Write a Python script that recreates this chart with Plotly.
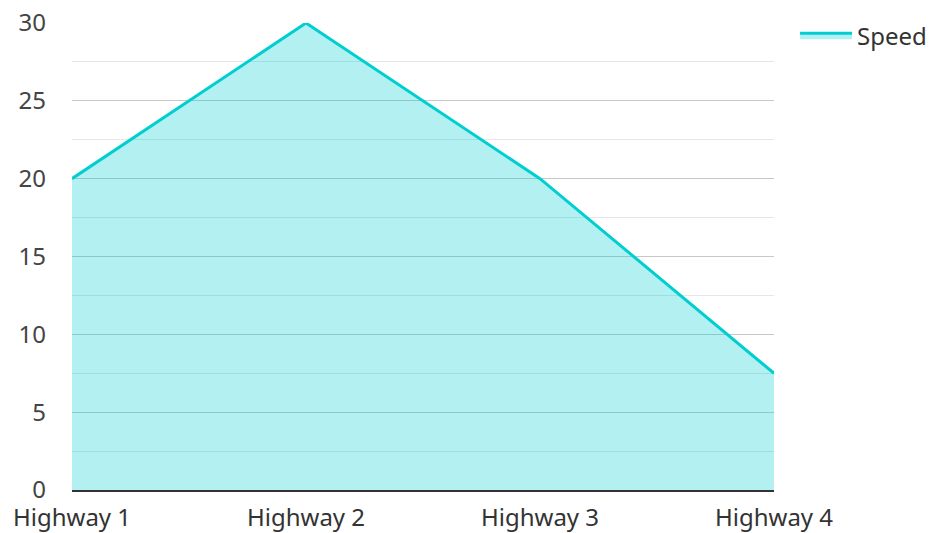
import plotly.graph_objects as go

categories = ["Highway 1", "Highway 2", "Highway 3", "Highway 4"]
speed = [20, 30, 20, 7.5]
y_ticks = [0, 5, 10, 15, 20, 25, 30]

fig = go.Figure()
fig.add_trace(go.Scatter(
    x=categories, y=speed, name="Speed", mode="lines",
    line=dict(color="#00CED1", width=3),
    fill="tozeroy", fillcolor="rgba(0,206,209,0.3)",
))

font_family = "Noto Sans"
fig.update_layout(
    width=932, height=533,
    margin=dict(l=72, r=158, t=23, b=43, autoexpand=False),
    paper_bgcolor="white", plot_bgcolor="white",
    font=dict(family=font_family, size=24, color="#444"),
    showlegend=True,
    legend=dict(x=1.03, y=1.021, xanchor="left", yanchor="top", itemwidth=52,
                font=dict(size=24, color="#333"), bgcolor="rgba(0,0,0,0)"),
    xaxis=dict(
        type="category", range=[0, 3], showgrid=False, zeroline=False,
        showline=True, linecolor="#333", linewidth=2, automargin=False,
        ticks="", tickfont=dict(size=24, color="#333"), ticklabelstandoff=5,
    ),
    yaxis=dict(
        range=[0, 30], tickvals=y_ticks, showgrid=True, gridcolor="#c8c8c8",
        gridwidth=1, zeroline=False, showline=False, ticks="", automargin=False,
        tickfont=dict(size=24, color="#444"),
        minor=dict(dtick=2.5, showgrid=True, gridcolor="#e6e6e6", gridwidth=1),
        ticklabelstandoff=25,
    ),
)

fig.write_html("out.html", config={"displayModeBar": False},
               post_script="document.body.style.margin='0';")
